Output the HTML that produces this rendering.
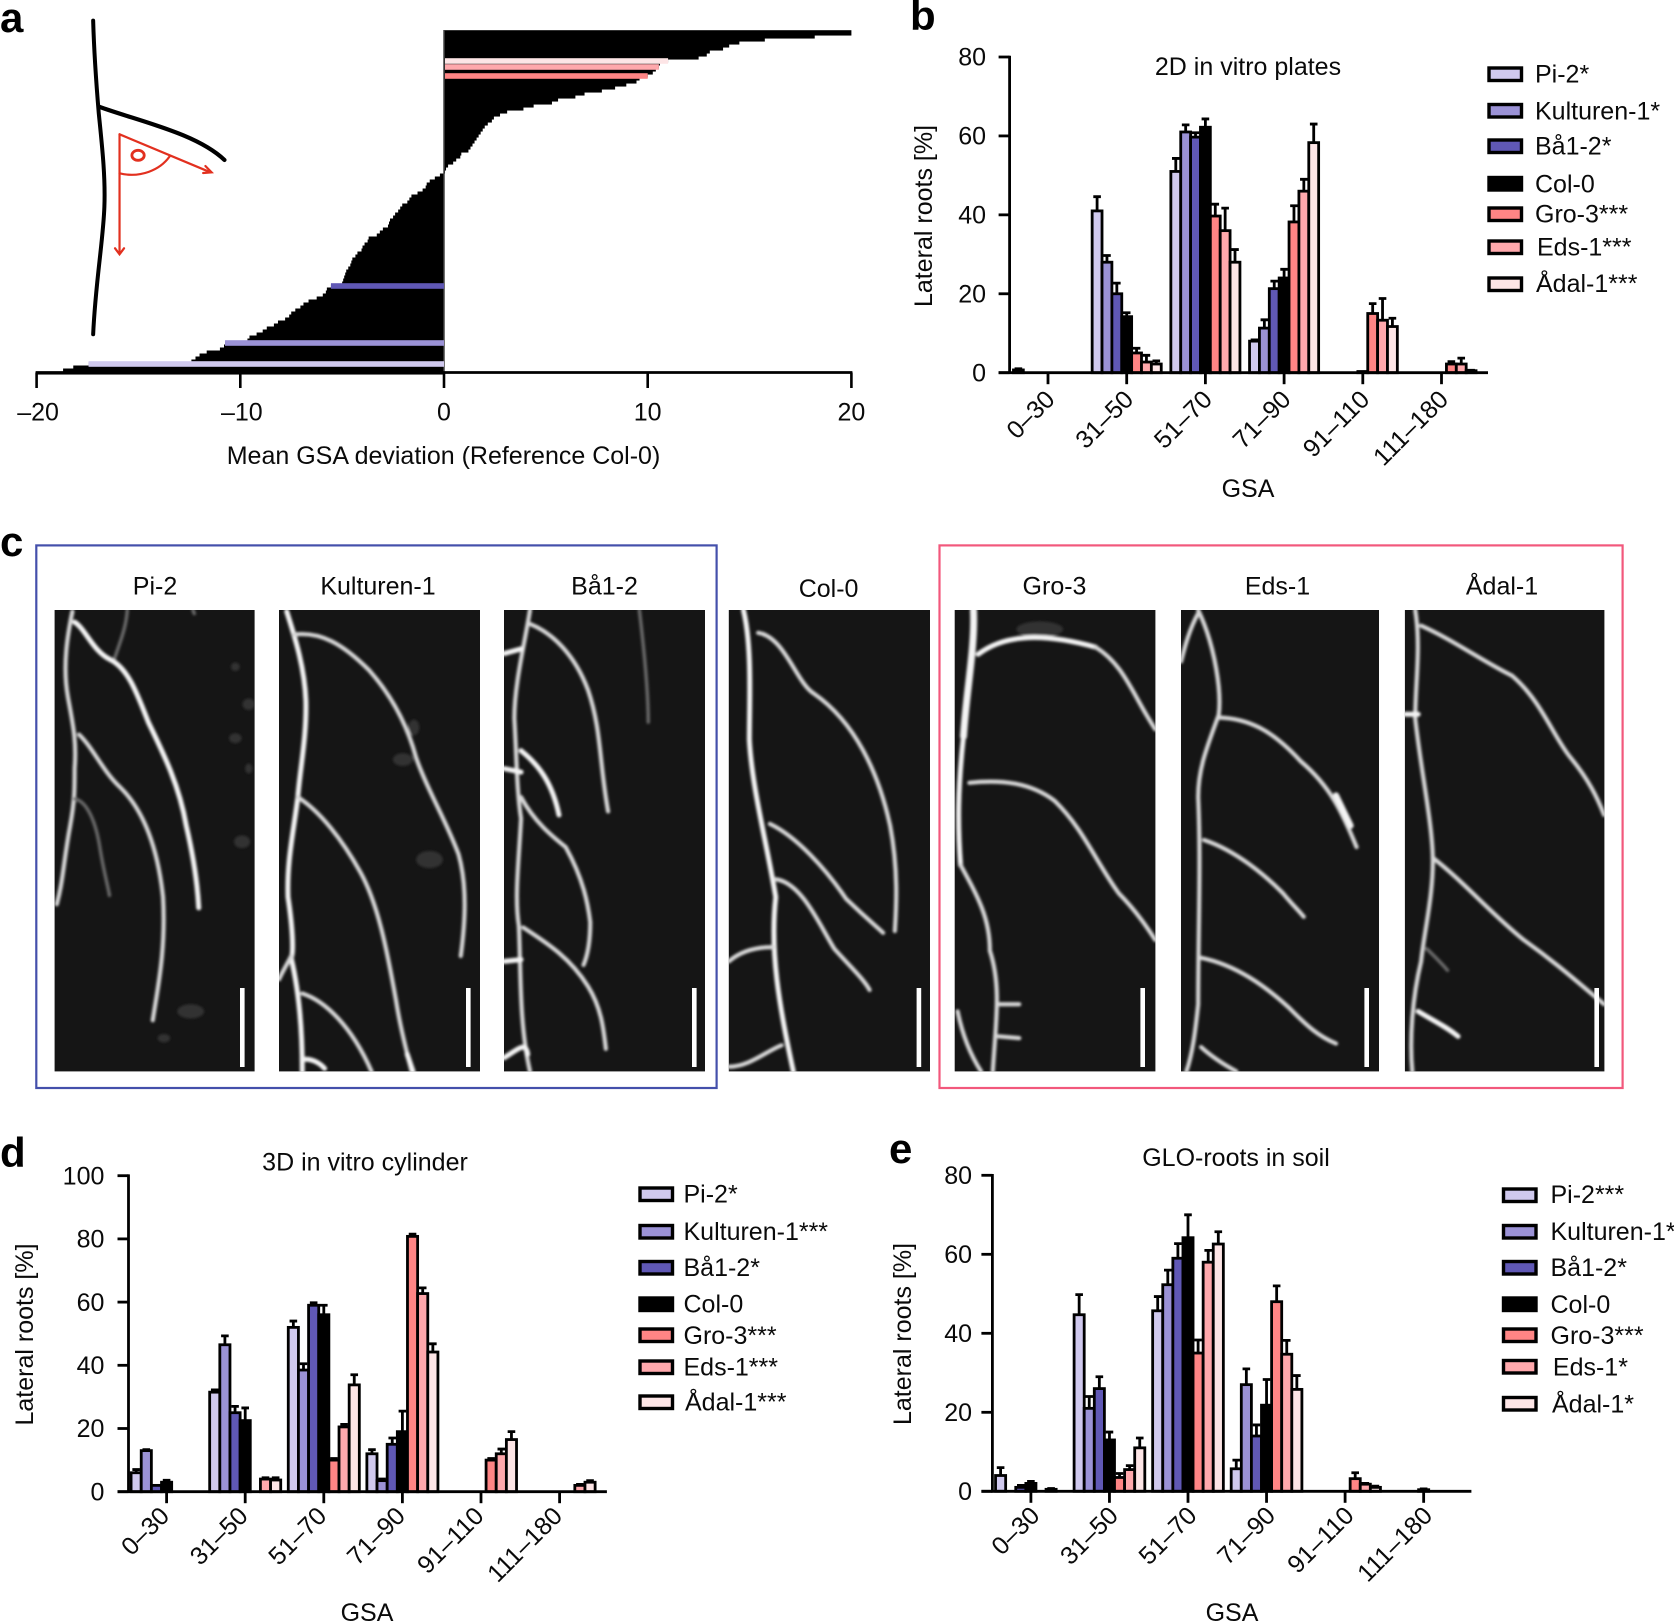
<!DOCTYPE html>
<html lang="en">
<head>
<meta charset="utf-8">
<title>Lateral root gravitropic set-point angle figure</title>
<style>
html,body{margin:0;padding:0;background:#fff}
svg{display:block}
text{font-family:"Liberation Sans",sans-serif;font-size:25px;fill:#0a0a0a}
.letter{font-weight:bold;font-size:42px;fill:#000}
.mid{text-anchor:middle}
.sw{stroke:#000;stroke-width:3.4}
.root path{fill:none;stroke:#d8d8d8;stroke-width:4.2;vector-effect:non-scaling-stroke;stroke-linecap:round}
.root path.b{stroke:#f4f4f4;stroke-width:5}
.root path.d{stroke:#6a6a6a;stroke-width:3.4}
.root ellipse{fill:#333}
.scale{fill:#fff}
.img{fill:#151515}
</style>
</head>
<body>
<svg id="figure" xmlns="http://www.w3.org/2000/svg" width="1674" height="1623" viewBox="0 0 1674 1623">
<defs>
<filter id="soft" filterUnits="userSpaceOnUse" x="0" y="560" width="1674" height="560"><feGaussianBlur stdDeviation="1.25"/></filter>
<clipPath id="clip-pi"><rect x="54.6" y="610" width="200" height="461.4"/></clipPath>
<clipPath id="clip-ku"><rect x="279" y="610" width="201" height="461.4"/></clipPath>
<clipPath id="clip-ba"><rect x="504" y="610" width="201" height="461.4"/></clipPath>
<clipPath id="clip-co"><rect x="728.8" y="610" width="201.2" height="461.4"/></clipPath>
<clipPath id="clip-gr"><rect x="954.7" y="610" width="200.7" height="461.4"/></clipPath>
<clipPath id="clip-ed"><rect x="1181" y="610" width="198" height="461.4"/></clipPath>
<clipPath id="clip-ad"><rect x="1404.9" y="610" width="199.5" height="461.4"/></clipPath>
</defs>

<text class="letter" x="0" y="32">a</text>
<text class="letter" x="910" y="30">b</text>
<text class="letter" x="0" y="556">c</text>
<text class="letter" x="0" y="1167">d</text>
<text class="letter" x="889" y="1163">e</text>

<!-- Panel a -->
<g id="panel-a"></g>
<g transform="scale(.5612,.3333)" fill="none" stroke-linecap="round">
  <path d="M166,62 C168,180 172,260 176,340 C182,440 188,530 186,620 C184,720 170,850 166,1003" stroke="#000" stroke-width="4" vector-effect="non-scaling-stroke"/>
  <path d="M176,320 C250,365 350,400 400,480" stroke="#000" stroke-width="4.2" vector-effect="non-scaling-stroke"/>
  <g stroke="#e2301f" stroke-width="2.2">
    <path vector-effect="non-scaling-stroke" d="M213,403 L213,760"/>
    <path vector-effect="non-scaling-stroke" d="M213,403 L375,517"/>
    <path vector-effect="non-scaling-stroke" d="M205,745 L213,763 L221,745"/>
    <path vector-effect="non-scaling-stroke" d="M362,519 L377,517 L366,498"/>
    <path vector-effect="non-scaling-stroke" d="M213,520 C250,535 285,510 302,470"/>
    <ellipse vector-effect="non-scaling-stroke" cx="246" cy="466" rx="11" ry="15" stroke-width="2.8"/>
  </g>
</g>
<text class="mid" x="443.5" y="464">Mean GSA deviation (Reference Col-0)</text>

<!-- Panel b -->
<g id="panel-b"></g>
<text class="mid" x="1248" y="75">2D in vitro plates</text>
<text class="mid" transform="translate(932,216) rotate(-90)">Lateral roots [%]</text>
<text class="mid" x="1248" y="497">GSA</text>
<g>
  <g><rect class="sw" x="1489" y="68" width="32.5" height="12.5" fill="#d0c9ee"/><text x="1535" y="82.7">Pi-2*</text></g>
  <g><rect class="sw" x="1489" y="104.5" width="32.5" height="12.5" fill="#9b92d6"/><text x="1535" y="119.4">Kulturen-1*</text></g>
  <g><rect class="sw" x="1489" y="140" width="32.5" height="12.5" fill="#6058b5"/><text x="1535" y="154.7">Bå1-2*</text></g>
  <g><rect class="sw" x="1489" y="177.5" width="32.5" height="12.5" fill="#000"/><text x="1535" y="192.7">Col-0</text></g>
  <g><rect class="sw" x="1489" y="208" width="32.5" height="12.5" fill="#ff8585"/><text x="1535" y="222.7">Gro-3***</text></g>
  <g><rect class="sw" x="1489" y="241" width="32.5" height="12.5" fill="#ffa8ac"/><text x="1537" y="255.7">Eds-1***</text></g>
  <g><rect class="sw" x="1489" y="278" width="32.5" height="12.5" fill="#fde5e6"/><text x="1536" y="292.2">Ådal-1***</text></g>
</g>

<!-- Panel c -->
<g>
  <rect x="36.3" y="545.4" width="680.3" height="542.6" fill="none" stroke="#4450ab" stroke-width="2.2"/>
  <rect x="939.5" y="545.4" width="683.1" height="542.6" fill="none" stroke="#f2587c" stroke-width="2.2"/>
  <text class="mid" x="155" y="594.4">Pi-2</text>
  <text class="mid" x="378" y="594.4">Kulturen-1</text>
  <text class="mid" x="604.5" y="594.4">Bå1-2</text>
  <text class="mid" x="828.6" y="597">Col-0</text>
  <text class="mid" x="1054.5" y="594.4">Gro-3</text>
  <text class="mid" x="1277.5" y="594.4">Eds-1</text>
  <text class="mid" x="1502" y="594.4">Ådal-1</text>

  <rect class="img" x="54.6" y="610" width="200" height="461.4"/>
  <rect class="img" x="279" y="610" width="201" height="461.4"/>
  <rect class="img" x="504" y="610" width="201" height="461.4"/>
  <rect class="img" x="728.8" y="610" width="201.2" height="461.4"/>
  <rect class="img" x="954.7" y="610" width="200.7" height="461.4"/>
  <rect class="img" x="1181" y="610" width="198" height="461.4"/>
  <rect class="img" x="1404.9" y="610" width="199.5" height="461.4"/>

  <g clip-path="url(#clip-pi)"><g filter="url(#soft)"><g class="root" transform="translate(30,540) scale(.4464,.3571)">
    <ellipse cx="490" cy="460" rx="14" ry="16"/><ellipse cx="460" cy="555" rx="14" ry="14"/><ellipse cx="475" cy="845" rx="18" ry="18"/><ellipse cx="490" cy="640" rx="8" ry="14"/><ellipse cx="460" cy="355" rx="10" ry="12"/><ellipse cx="360" cy="1320" rx="30" ry="20"/><ellipse cx="300" cy="1395" rx="14" ry="12"/>
    <path d="M95,200 C85,260 72,350 85,440 C95,510 105,560 100,640 C100,700 100,730 90,800 C75,900 75,950 60,1020"/>
    <path class="b" d="M100,230 C125,250 140,310 180,335 C220,360 240,430 265,510 C300,600 335,690 350,800 C365,880 375,960 378,1030"/>
    <path d="M110,545 C140,580 165,650 200,690 C250,750 285,850 298,1000 C305,1150 285,1260 275,1345"/>
    <path class="d" d="M100,725 C125,730 145,780 155,850 C165,930 175,970 178,995"/>
    <path class="d" d="M218,196 C215,250 200,290 190,330"/>
    <path class="d" d="M365,196 L368,206"/>
  </g></g></g>
  <g clip-path="url(#clip-ku)"><g filter="url(#soft)"><g class="root" transform="translate(30,540) scale(.4464,.3571)">
    <ellipse cx="895" cy="895" rx="30" ry="24"/><ellipse cx="835" cy="615" rx="22" ry="18"/><ellipse cx="860" cy="525" rx="12" ry="22"/>
    <path class="b" d="M575,200 C590,260 615,350 618,450 C620,550 605,640 600,720 C590,820 575,900 578,1000 C590,1100 590,1160 585,1170 C600,1250 610,1350 610,1488"/>
    <path d="M590,265 C650,255 700,290 760,365 C820,450 850,540 865,610 C890,700 930,780 960,880 C980,970 975,1070 965,1165"/>
    <path d="M600,720 C650,760 700,840 740,930 C780,1020 800,1150 820,1290 C830,1370 845,1440 855,1488"/>
    <path d="M610,1270 C660,1290 720,1360 765,1488"/>
    <path d="M585,1165 C575,1190 565,1210 558,1230"/>
    <path class="b" d="M610,1455 C630,1450 650,1465 660,1480"/>
    <path class="b" d="M845,1440 L858,1488"/>
  </g></g></g>
  <g clip-path="url(#clip-ba)"><g filter="url(#soft)"><g class="root" transform="translate(30,540) scale(.4464,.3571)">
    <path d="M1120,196 C1110,280 1085,400 1085,500 C1090,600 1090,700 1100,780 C1095,900 1085,1000 1095,1080 C1100,1200 1095,1350 1120,1488"/>
    <path d="M1120,235 C1170,260 1220,320 1250,420 C1280,530 1275,620 1295,760"/>
    <path class="b" d="M1100,590 C1140,630 1170,680 1185,770"/>
    <path d="M1100,720 C1130,790 1170,830 1200,860 C1240,950 1250,1020 1255,1070 C1255,1120 1250,1160 1240,1190"/>
    <path d="M1105,1085 C1160,1130 1210,1170 1250,1250 C1280,1310 1285,1370 1290,1425"/>
    <path class="b" d="M1062,318 L1100,305"/><path class="b" d="M1062,1180 L1100,1175"/><path class="b" d="M1062,1450 C1090,1430 1110,1400 1115,1440"/><path class="b" d="M1062,640 L1100,650"/>
    <path class="d" d="M1365,196 C1375,300 1385,420 1385,510"/>
  </g></g></g>
  <g clip-path="url(#clip-co)"><g filter="url(#soft)"><g class="root" transform="translate(720,540) scale(.5867,.3571)">
    <path class="b" d="M40,196 C55,300 50,450 50,560 C55,700 80,850 95,1000 C85,1150 100,1300 125,1488"/>
    <path d="M65,260 C110,270 130,400 160,430 C230,510 270,650 290,800 C305,930 300,1040 298,1095"/>
    <path d="M85,795 C130,830 180,920 215,1005 C250,1060 265,1080 278,1100"/>
    <path d="M95,950 C140,960 170,1080 195,1145 C225,1200 245,1230 255,1260"/>
    <path d="M15,1180 C40,1145 70,1140 90,1140"/><path d="M15,1475 C50,1475 80,1430 105,1415"/>
  </g></g></g>
  <g clip-path="url(#clip-gr)"><g filter="url(#soft)"><g class="root" transform="translate(720,540) scale(.5867,.3571)">
    <ellipse cx="545" cy="250" rx="40" ry="22"/>
    <path class="b" style="stroke-width:7" d="M432,196 C435,300 420,420 415,550"/>
    <path class="b" d="M415,550 C405,700 405,800 410,910"/>
    <path d="M410,910 C440,1000 460,1060 460,1150 C480,1250 470,1350 465,1488"/>
    <path d="M405,1320 C415,1400 430,1450 445,1488"/>
    <path class="b" d="M440,320 C480,270 540,255 640,300"/><path d="M640,300 C690,350 705,440 742,530"/>
    <path d="M425,680 C480,670 530,680 570,730 C620,810 640,900 680,990 C710,1040 730,1090 742,1120"/>
    <path d="M475,1300 L510,1300"/><path d="M475,1390 L510,1395"/>
  </g></g></g>
  <g clip-path="url(#clip-ed)"><g filter="url(#soft)"><g class="root" transform="translate(720,540) scale(.5867,.3571)">
    <path d="M815,196 C845,300 855,430 850,490 C830,580 815,640 815,720 C820,900 815,1100 815,1300 C810,1380 805,1440 795,1488"/>
    <path d="M815,205 C800,250 792,300 786,340"/>
    <path d="M850,497 C900,500 940,530 990,620 C1040,690 1060,760 1085,860"/>
    <path class="b" style="stroke-width:6" d="M1050,715 L1075,800"/>
    <path d="M825,840 C880,870 930,940 960,990 C975,1020 985,1035 995,1055"/>
    <path d="M820,1170 C880,1190 930,1250 970,1310 C1000,1360 1020,1390 1050,1410"/>
    <path d="M820,1420 C840,1450 860,1470 880,1488"/>
  </g></g></g>
  <g clip-path="url(#clip-ad)"><g filter="url(#soft)"><g class="root" transform="translate(720,540) scale(.5867,.3571)">
    <path d="M1185,196 C1195,300 1185,400 1185,500 C1195,650 1215,800 1215,900 C1215,1000 1200,1100 1195,1180 C1180,1280 1175,1400 1180,1488"/>
    <path d="M1195,240 C1250,280 1300,340 1350,380 C1400,450 1420,550 1450,610 C1480,670 1495,720 1507,770"/>
    <path d="M1215,890 C1270,960 1310,1040 1370,1120 C1430,1190 1470,1250 1507,1300"/>
    <path class="b" d="M1190,1320 C1220,1350 1240,1365 1258,1390"/>
    <path class="d" d="M1205,1145 C1220,1170 1230,1185 1240,1205"/>
    <path class="b" d="M1168,488 L1190,488"/>
  </g></g></g>

  <rect class="scale" x="240" y="988" width="4.6" height="79"/>
  <rect class="scale" x="466" y="988" width="4.6" height="79"/>
  <rect class="scale" x="692" y="988" width="4.6" height="79"/>
  <rect class="scale" x="916.6" y="988" width="4.6" height="79"/>
  <rect class="scale" x="1140.4" y="988" width="4.6" height="79"/>
  <rect class="scale" x="1364.4" y="988" width="4.6" height="79"/>
  <rect class="scale" x="1594.4" y="988" width="4.6" height="79"/>
</g>

<!-- Panel d -->
<g id="panel-d"></g>
<text class="mid" x="365" y="1170.5">3D in vitro cylinder</text>
<text class="mid" transform="translate(33,1334.5) rotate(-90)">Lateral roots [%]</text>
<text class="mid" x="367" y="1621">GSA</text>
<g>
  <g><rect class="sw" x="640" y="1188" width="32.5" height="12.5" fill="#d0c9ee"/><text x="683.5" y="1202.7">Pi-2*</text></g>
  <g><rect class="sw" x="640" y="1225.5" width="32.5" height="12.5" fill="#9b92d6"/><text x="683.5" y="1240">Kulturen-1***</text></g>
  <g><rect class="sw" x="640" y="1261.5" width="32.5" height="12.5" fill="#6058b5"/><text x="683.5" y="1276">Bå1-2*</text></g>
  <g><rect class="sw" x="640" y="1298" width="32.5" height="12.5" fill="#000"/><text x="683.5" y="1312.7">Col-0</text></g>
  <g><rect class="sw" x="640" y="1329" width="32.5" height="12.5" fill="#ff8585"/><text x="683.5" y="1344">Gro-3***</text></g>
  <g><rect class="sw" x="640" y="1361" width="32.5" height="12.5" fill="#ffa8ac"/><text x="683.5" y="1375.4">Eds-1***</text></g>
  <g><rect class="sw" x="640" y="1396" width="32.5" height="12.5" fill="#fde5e6"/><text x="685" y="1410.7">Ådal-1***</text></g>
</g>

<!-- Panel e -->
<g id="panel-e"></g>
<text class="mid" x="1236" y="1166">GLO-roots in soil</text>
<text class="mid" transform="translate(911,1334) rotate(-90)">Lateral roots [%]</text>
<text class="mid" x="1232" y="1621">GSA</text>
<g>
  <g><rect class="sw" x="1503.5" y="1189" width="32.5" height="12.5" fill="#d0c9ee"/><text x="1550.5" y="1203.2">Pi-2***</text></g>
  <g><rect class="sw" x="1503.5" y="1225.5" width="32.5" height="12.5" fill="#9b92d6"/><text x="1550.5" y="1240">Kulturen-1*</text></g>
  <g><rect class="sw" x="1503.5" y="1261.5" width="32.5" height="12.5" fill="#6058b5"/><text x="1550.5" y="1276">Bå1-2*</text></g>
  <g><rect class="sw" x="1503.5" y="1298" width="32.5" height="12.5" fill="#000"/><text x="1550.5" y="1313">Col-0</text></g>
  <g><rect class="sw" x="1503.5" y="1329" width="32.5" height="12.5" fill="#ff8585"/><text x="1550.5" y="1344">Gro-3***</text></g>
  <g><rect class="sw" x="1503.5" y="1360.5" width="32.5" height="12.5" fill="#ffa8ac"/><text x="1552.9" y="1375.4">Eds-1*</text></g>
  <g><rect class="sw" x="1503.5" y="1397.5" width="32.5" height="12.5" fill="#fde5e6"/><text x="1552" y="1412.4">Ådal-1*</text></g>
</g>
</svg>

<script>
// ---- Panel a data: mean GSA deviation per accession, top row to bottom row ----
const deviationValues = [
  20,20,18.2,15.75,14.5,14,13.7,13.05,12.9,12.5,
  11,10.6,10.55,10.4,10.25,10,9.6,9.45,8.95,8.4,
  7.75,6.9,6.45,5.6,5.3,4.4,3.9,3.1,2.75,2.45,
  2.35,2.15,2,1.9,1.8,1.7,1.6,1.5,1.4,1.3,
  1.2,.85,.8,.6,.45,.2,.1,.05,
  -.2,-.45,-.7,-.85,-.9,-1.05,-1.3,-1.6,-1.7,-1.8,
  -2.05,-2.15,-2.25,-2.4,-2.5,-2.65,-2.7,-2.75,-3,-3.15,
  -3.3,-3.7,-3.75,-3.9,-4,-4.05,-4.25,-4.35,-4.5,-4.55,
  -4.6,-4.7,-4.8,-4.85,-4.9,-4.95,-5,-5.55,-5.75,-5.8,
  -5.95,-6.25,-6.65,-6.9,-7.05,-7.3,-7.5,-7.6,-7.8,-8.15,
  -8.35,-8.7,-8.9,-9.2,-9.55,-9.65,-10.75,-10.8,-11,-11.65,
  -12,-12.2,-12.4,-17.45,-18.2,-18.7,-20
];
const highlightedRows = [10,12,15,85,104,111];
const highlightedAccessions = ['Adal','Eds','Gro','Ba','Kulturen','Pi'];
const deviationTicks = [-20,-10,0,10,20];
const deviationTickLabels = ['–20','–10','0','10','20'];

// ---- Shared categories and series ----
const gsaCategories = ['0–30','31–50','51–70','71–90','91–110','111–180'];
const seriesKeys = ['pi-2','kulturen-1','ba1-2','col-0','gro-3','eds-1','adal-1'];

// ---- Panel b: 2D in vitro plates ----
const bPi = [.7,41,51,8,0,0];
const bPiErr = [.3,3.6,3.3,.3,0,0];
const bKulturen = [0,28,61,11.3,0,0];
const bKulturenErr = [0,1.7,1.8,2.1,0,0];
const bBa = [0,20,59.7,21.3,0,0];
const bBaErr = [0,2.7,1.1,1.9,0,0];
const bCol = [0,14.2,62.2,24,.3,0];
const bColErr = [0,1,2.1,2.2,0,0];
const bGro = [0,5,39.7,38.2,15,2.2];
const bGroErr = [0,1.2,3,4.1,2.5,.6];
const bEds = [0,2.7,36,46,13.3,2.2];
const bEdsErr = [0,1.7,5.7,3,5.5,1.5];
const bAdal = [0,2.2,28,58.3,11.7,.5];
const bAdalErr = [0,.8,3.2,4.7,2.1,.1];
const bTicks = [0,20,40,60,80];

// ---- Panel d: 3D in vitro cylinder ----
const dPi = [6,31.5,52,12,0,0];
const dPiErr = [1,.7,2,1.3,0,0];
const dKulturen = [13,46.5,38.5,3.5,0,0];
const dKulturenErr = [.3,2.8,2,.5,0,0];
const dBa = [2,25,59,15,0,0];
const dBaErr = [0,2,.8,2,0,0];
const dCol = [3,22.5,56,19,0,0];
const dColErr = [.6,4,3,6.5,0,0];
const dGro = [0,0,10,80.8,10,0];
const dGroErr = [0,0,.5,.7,.5,0];
const dEds = [0,4,20.5,62.7,12,2];
const dEdsErr = [0,.4,.8,1.8,1.5,.3];
const dAdal = [0,3.7,33.8,44.2,16.5,3];
const dAdalErr = [0,.7,3.2,2.6,2.5,.5];
const dTicks = [0,20,40,60,80,100];

// ---- Panel e: GLO-roots in soil ----
const ePi = [4,44.7,45.7,5.7,0,0];
const ePiErr = [2,5.1,3.6,2.2,0,0];
const eKulturen = [0,21,52.3,27,0,0];
const eKulturenErr = [0,3,3.7,4,0,0];
const eBa = [1,26,59,14,0,0];
const eBaErr = [.5,3,3.7,2.8,0,0];
const eCol = [2,13,64.2,21.8,0,.4];
const eColErr = [.5,2,5.8,6.5,0,.2];
const eGro = [0,3.5,35,48,3.2,0];
const eGroErr = [0,1,3.3,4,1.5,0];
const eEds = [.5,5.5,58,34.7,1.8,0];
const eEdsErr = [.2,1,3,3.5,.2,0];
const eAdal = [0,11,62.6,25.8,1,0];
const eAdalErr = [0,2.5,3.1,3.5,.3,0];
const eTicks = [0,20,40,60,80];

const NS = 'http://www.w3.org/2000/svg';
const seriesFill = ['#d0c9ee','#9b92d6','#6058b5','#000000','#ff8585','#ffa8ac','#fde5e6'];
const accessionFill = {Adal:'#fde5e6',Eds:'#ffa8ac',Gro:'#ff8585',Ba:'#6058b5',Kulturen:'#9b92d6',Pi:'#d0c9ee'};

function mk(tag, parent, props) {
  const el = document.createElementNS(NS, tag);
  for (const k in props) el.setAttribute(k, props[k]);
  parent.appendChild(el);
  return el;
}

function drawDeviationChart() {
  const g = document.getElementById('panel-a');
  const axisY = 372.5;
  const xs = function (v) { return 444 + v * 20.37; };
  const rowTop = function (k) { return 29.5 + 3 * k; };

  deviationValues.forEach(function (v, k) {
    const x0 = Math.min(xs(0), xs(v));
    const top = Math.max(30.2, rowTop(k));
    const bar = mk('rect', g, {x: x0, y: top, width: Math.abs(xs(v) - xs(0)), height: rowTop(k) + 3.05 - top, fill: '#000'});
    
    
  });

  const zero = mk('line', g, {x1: xs(0), x2: xs(0), y1: 30, y2: axisY, stroke: '#444', 'stroke-width': 1.5});
  
  

  highlightedRows.forEach(function (k, i) {
    const v = deviationValues[k];
    const left = v > 0 ? xs(0) + 1 : xs(v);
    const w = v > 0 ? xs(v) - xs(0) - 1 : xs(0) - xs(v);
    const hl = mk('rect', g, {x: left, y: rowTop(k) + 1.5 - 2.8, width: w, height: 5.6, fill: accessionFill[highlightedAccessions[i]]});
    
    
  });

  const axis = mk('line', g, {x1: xs(-20) - 1, x2: xs(20) + 1, y1: axisY, y2: axisY, stroke: '#000', 'stroke-width': 2.8});
  
  

  deviationTicks.forEach(function (t, i) {
    const tick = mk('line', g, {x1: xs(t), x2: xs(t), y1: axisY, y2: 388, stroke: '#000', 'stroke-width': 2.6});
    
    
    const label = mk('text', g, {x: xs(t) + (t < 0 ? 1.5 : 0), y: 420.5, 'text-anchor': 'middle'});
    
    
    label.textContent = deviationTickLabels[i];
  });
}

function drawBarPanel(id, layout, ticks, series, errors) {
  const g = document.getElementById(id);
  const ys = function (v) { return layout.y0 - v * (layout.y0 - layout.yTop) / ticks[ticks.length - 1]; };
  const tickX = function (i) { return layout.x0 + i * layout.step; };
  const bw = layout.bw;

  series.forEach(function (values, s) {
    values.forEach(function (v, c) {
      if (v <= 0) return;
      const x = tickX(c) - 3.5 * bw + s * bw;
      const err = errors[s][c];
      if (err > 0) {
        const eb = mk('path', g, {
          d: 'M' + (x + bw / 2) + ',' + ys(v) + 'V' + ys(v + err) + 'M' + (x + bw / 2 - 3.8) + ',' + ys(v + err) + 'H' + (x + bw / 2 + 3.8),
          stroke: '#000', 'stroke-width': 2.8, fill: 'none'
        });
        
        
      }
      const bar = mk('rect', g, {x: x, y: ys(v), width: bw, height: layout.y0 - ys(v), fill: seriesFill[s], stroke: '#000', 'stroke-width': 2.8});
      
      
    });
  });

  const yAxis = mk('line', g, {x1: layout.axisX, x2: layout.axisX, y1: ys(ticks[ticks.length - 1]) - 1.3, y2: layout.y0 + 1.3, stroke: '#000', 'stroke-width': 2.8});
  
  
  const xAxis = mk('line', g, {x1: layout.axisX - 11, x2: layout.xEnd, y1: layout.y0, y2: layout.y0, stroke: '#000', 'stroke-width': 2.8});
  
  

  ticks.forEach(function (t) {
    const tk = mk('line', g, {x1: layout.axisX - 11, x2: layout.axisX, y1: ys(t), y2: ys(t), stroke: '#000', 'stroke-width': 2.8});
    
    
    const lb = mk('text', g, {x: layout.labelRight, y: ys(t) + 8.7, 'text-anchor': 'end'});
    
    
    lb.textContent = String(t);
  });

  gsaCategories.forEach(function (cat, i) {
    const tk = mk('line', g, {x1: tickX(i), x2: tickX(i), y1: layout.y0, y2: layout.y0 + 11.5, stroke: '#000', 'stroke-width': 2.8});
    
    
    const ax = tickX(i) + layout.labelDx;
    const ay = layout.y0 + layout.labelDy;
    const lb = mk('text', g, {x: ax, y: ay, 'text-anchor': 'end', transform: 'rotate(-45 ' + ax + ' ' + ay + ')', dy: '.35em'});
    
    
    lb.textContent = cat;
  });
}

drawDeviationChart();
drawBarPanel('panel-b',
  {x0: 1048, step: 78.7, bw: 9.87, y0: 372.7, yTop: 57, axisX: 1009.6, xEnd: 1488, labelRight: 986, labelDx: 2, labelDy: 22},
  bTicks,
  [bPi, bKulturen, bBa, bCol, bGro, bEds, bAdal],
  [bPiErr, bKulturenErr, bBaErr, bColErr, bGroErr, bEdsErr, bAdalErr]);
drawBarPanel('panel-d',
  {x0: 166.6, step: 78.6, bw: 10.15, y0: 1491.7, yTop: 1175.7, axisX: 128.5, xEnd: 606.9, labelRight: 104.4, labelDx: -2, labelDy: 19.5},
  dTicks,
  [dPi, dKulturen, dBa, dCol, dGro, dEds, dAdal],
  [dPiErr, dKulturenErr, dBaErr, dColErr, dGroErr, dEdsErr, dAdalErr]);
drawBarPanel('panel-e',
  {x0: 1030.9, step: 78.55, bw: 10.1, y0: 1491.3, yTop: 1175.3, axisX: 992.4, xEnd: 1471.4, labelRight: 972, labelDx: 4, labelDy: 19.5},
  eTicks,
  [ePi, eKulturen, eBa, eCol, eGro, eEds, eAdal],
  [ePiErr, eKulturenErr, eBaErr, eColErr, eGroErr, eEdsErr, eAdalErr]);
</script>
</body>
</html>
